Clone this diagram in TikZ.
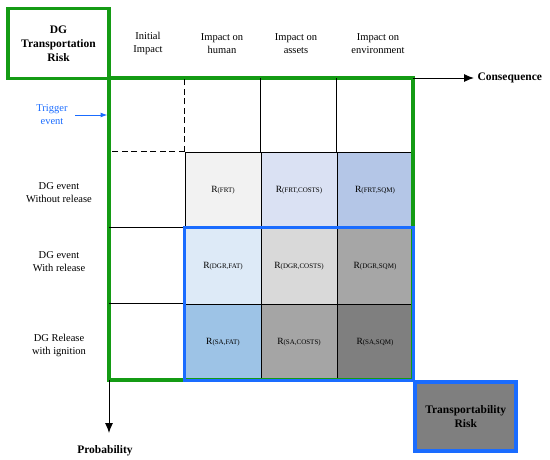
\documentclass[tikz,border=0pt]{standalone}
\usepackage{fontspec}
\setmainfont{Liberation Serif}
\usetikzlibrary{positioning, arrows, arrows.meta}
\definecolor{riskgreen}{RGB}{20,155,20}
\definecolor{riskblue}{RGB}{26,108,255}
\definecolor{cfrt}{HTML}{F2F2F2}
\definecolor{cfrtcosts}{HTML}{DAE1F3}
\definecolor{cfrtsqm}{HTML}{B4C6E7}
\definecolor{cdgrfat}{HTML}{DDEAF7}
\definecolor{cdgrcosts}{HTML}{D9D9D9}
\definecolor{cdgrsqm}{HTML}{A6A6A6}
\definecolor{csafat}{HTML}{9DC3E6}
\definecolor{csacosts}{HTML}{A5A5A5}
\definecolor{csasqm}{HTML}{7F7F7F}
\newcommand{\riskval}[1]{R{\fontsize{7}{8}\selectfont(#1)}}
\tikzset{
    x=1pt, y=-1pt, % one unit is one pixel of the reference
    axis/.style={-{Latex[length=10pt,width=8pt]}, line width=1pt}, % filled arrow heads
    cell/.style={draw, line width=0.9pt, minimum width=76pt, minimum height=76pt, inner sep=0pt, font=\fontsize{9.5}{11}\selectfont}, % one risk cell
    head/.style={align=center, font=\fontsize{10.5}{13}\selectfont}, % column and row texts
    bold head/.style={align=center, font=\fontsize{11.5}{14}\selectfont\bfseries},
    green frame/.style={draw=riskgreen, line width=3.2pt},
    blue frame/.style={draw=riskblue, line width=3.6pt},
}

\begin{document}
\begin{tikzpicture}
    \useasboundingbox (0,0) rectangle (550,459);
    % coloured cells
    \node[cell, fill=cfrt] (frt) at (223,190) {\riskval{FRT}};
    \node[cell, fill=cfrtcosts] (frtcosts) at (299,190) {\riskval{FRT,COSTS}};
    \node[cell, fill=cfrtsqm] (frtsqm) at (375,190) {\riskval{FRT,SQM}};
    \node[cell, fill=cdgrfat] (dgrfat) at (223,266) {\riskval{DGR,FAT}};
    \node[cell, fill=cdgrcosts] (dgrcosts) at (299,266) {\riskval{DGR,COSTS}};
    \node[cell, fill=cdgrsqm] (dgrsqm) at (375,266) {\riskval{DGR,SQM}};
    \node[cell, fill=csafat] (safat) at (223,342) {\riskval{SA,FAT}};
    \node[cell, fill=csacosts] (sacosts) at (299,342) {\riskval{SA,COSTS}};
    \node[cell, fill=csasqm] (sasqm) at (375,342) {\riskval{SA,SQM}};
    % frame of the matrix
    \node[green frame, outer sep=0pt, minimum width=304pt, minimum height=302pt] (grid) at (261,229) {};
    \draw[line width=0.9pt]
    (frtcosts.north west) -- (frtcosts.north west |- grid.north)
    (frtsqm.north west) -- (frtsqm.north west |- grid.north)
    (dgrfat.north west) -- (dgrfat.north west -| grid.west)
    (safat.north west) -- (safat.north west -| grid.west);
    \draw[line width=1.1pt, dash pattern=on 6pt off 3.5pt]
    (frt.north west) -- (frt.north west |- grid.north)
    (frt.north west) -- (frt.north west -| grid.west);
    \draw[blue frame] (dgrfat.north west) rectangle (sasqm.south east);
    % corner boxes
    \node[green frame, bold head, minimum width=101pt, minimum height=70pt] (title) at (58.5,43.5) {DG\\Transportation\\Risk};
    \node[blue frame, bold head, fill=csasqm, minimum width=101pt, minimum height=69pt, anchor=north west] (transp) at (sasqm.south east) {Transportability\\Risk};
    % column heads
    \node[head] (hdinit) at (148,43.5) {Initial\\Impact};
    \node[head] (hdhuman) at (222,43.5) {Impact on\\human};
    \node[head] (hdassets) at (296,43.5) {Impact on\\assets};
    \node[head] (hdenv) at (378,43.5) {Impact on\\environment};
    % row heads
    \node[head, text=riskblue] (trigger) at (52,115) {Trigger\\event};
    \node[head] (rownorel) at (59,193) {DG event\\Without release};
    \node[head] (rowrel) at (59,262) {DG event\\With release};
    \node[head] (rowign) at (59,345) {DG Release\\with ignition};
    % axes
    \node[bold head, anchor=west] (cons) at (474,78) {Consequence};
    \node[bold head] (prob) at (105,451) {Probability};
    \coordinate (probtip) at (109,433);
    \draw[axis] (grid.north east) -- (cons.west);
    \draw[axis] (grid.south west) -- (probtip);
    \draw[-{Latex[length=7pt,width=5pt]}, line width=1pt, riskblue, shorten <=4pt, shorten >=1.5pt] (trigger.east) -- (trigger.east -| grid.west);
\end{tikzpicture}
\end{document}
